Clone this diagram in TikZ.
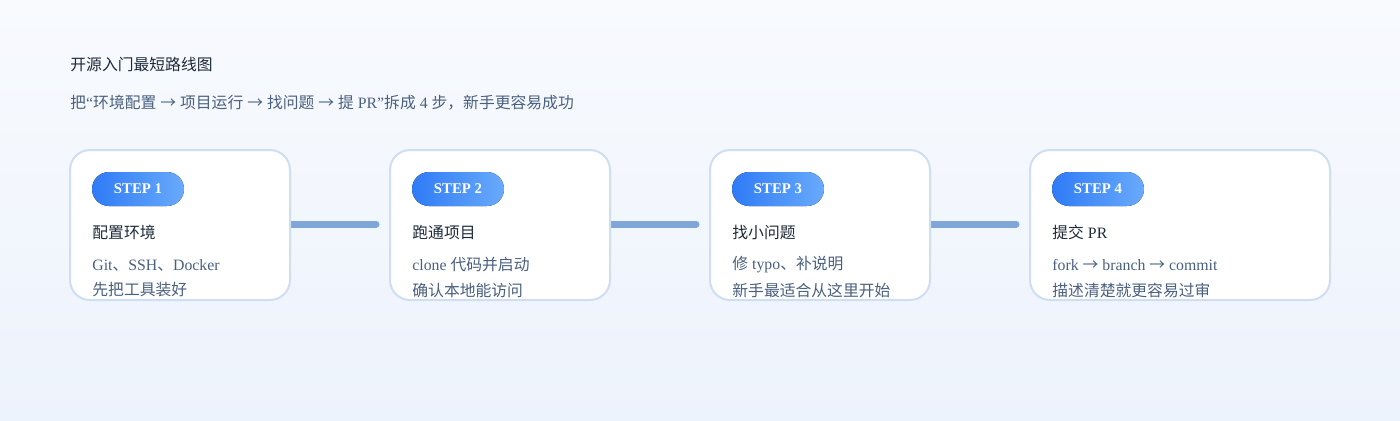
\documentclass[tikz,border=0pt]{standalone}
\usepackage{fontspec}
\setmainfont{Liberation Serif}
\newfontfamily\cjk{Noto Sans CJK SC}
\definecolor{bgA}{HTML}{F8FAFE}
\definecolor{bgB}{HTML}{EDF3FC}
\definecolor{cardline}{HTML}{CFDFF3}
\definecolor{conncol}{HTML}{7FA6D8}
\definecolor{pillA}{HTML}{2F7BF6}
\definecolor{pillB}{HTML}{68AAFB}
\definecolor{ink}{HTML}{1E2A3A}
\definecolor{sub}{HTML}{4A6080}
\newcommand\rarr{{\cjk →}}
\tikzset{
  card/.style={draw=none, fill=white, rounded corners=10pt},
  connector/.style={draw=conncol, line width=3.5pt, line cap=round},
  pill/.style={rounded corners=8.5pt, left color=pillA, right color=pillB, draw=none},
  steptxt/.style={text=white, font=\fontsize{7.4}{8}\selectfont\bfseries, anchor=center},
  ttl/.style={text=ink, font=\fontsize{7.9}{9}\selectfont, anchor=west, inner sep=0},
  body/.style={text=sub, font=\fontsize{7.9}{9}\selectfont, anchor=west, inner sep=0},
}
\newcommand\mkcard[7]{%
  \node[card, minimum width=#3*0.5pt, minimum height=75pt, anchor=north west, inner sep=0] (#1) at (#2,150) {};
  \begin{scope}
  \clip[rounded corners=10pt] (#2,150) rectangle ++(#3,150);
  \fill[pill] (#2+22,172) rectangle ++(92,34);
  \node[steptxt] (#1s) at (#2+68,189) {#4};
  \node[ttl] (#1t) at (#2+22,232) {#5};
  \node[body] (#1a) at (#2+22,265) {#6};
  \node[body] (#1b) at (#2+22,290) {#7};
  \end{scope}
  \draw[cardline, line width=1pt, rounded corners=10pt] (#2,150) rectangle ++(#3,150);
}
\begin{document}
\begin{tikzpicture}[x=0.5pt,y=-0.5pt]
\useasboundingbox (0,0) rectangle (1400,420);
\fill[top color=bgA, bottom color=bgB] (0,0) rectangle (1400,420);
\node[ttl] (title) at (70,65) {\cjk 开源入门最短路线图};
\node[body] (subtitle) at (70,103) {{\cjk 把}“{\cjk 环境配置} \rarr{} {\cjk 项目运行} \rarr{} {\cjk 找问题} \rarr{} {\cjk 提} PR”{\cjk 拆成} 4 {\cjk 步，新手更容易成功}};
\coordinate (e1) at (376,224);
\coordinate (e2) at (696,224);
\coordinate (e3) at (1016,224);
\coordinate (s1) at (285,224);
\coordinate (s2) at (605,224);
\coordinate (s3) at (925,224);
\draw[connector] (s1) -- (e1);
\draw[connector] (s2) -- (e2);
\draw[connector] (s3) -- (e3);
\mkcard{c1}{70}{220}{STEP 1}{\cjk 配置环境}{Git{\cjk 、}SSH{\cjk 、}Docker}{\cjk 先把工具装好}
\mkcard{c2}{390}{220}{STEP 2}{\cjk 跑通项目}{clone {\cjk 代码并启动}}{\cjk 确认本地能访问}
\mkcard{c3}{710}{220}{STEP 3}{\cjk 找小问题}{{\cjk 修} typo{\cjk 、补说明}}{\cjk 新手最适合从这里开始}
\mkcard{c4}{1030}{300}{STEP 4}{{\cjk 提交} PR}{fork \rarr{} branch \rarr{} commit}{\cjk 描述清楚就更容易过审}
\end{tikzpicture}
\end{document}
